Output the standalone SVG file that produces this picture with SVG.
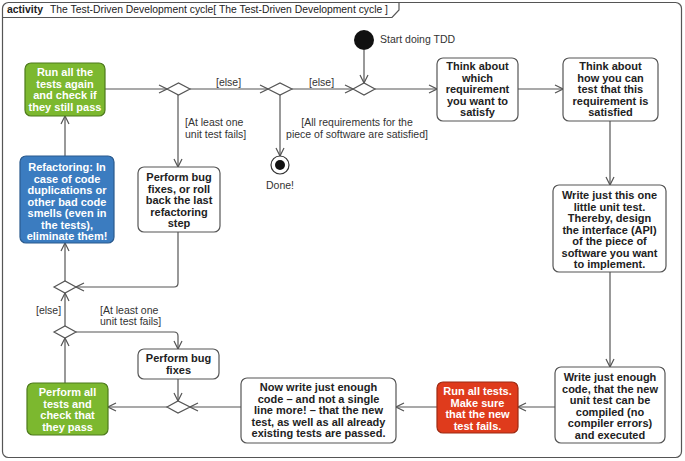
<svg xmlns="http://www.w3.org/2000/svg" width="685" height="461" viewBox="0 0 685 461">
<style>
.frame{fill:#fff;stroke:#555;stroke-width:1.2}
.box{fill:#fff;stroke:#555;stroke-width:1.2}
.green{fill:#7cb82f;stroke:#4d7a1c;stroke-width:1.2}
.blue{fill:#3b7cc0;stroke:#2a5a8e;stroke-width:1.2}
.red{fill:#df3b1c;stroke:#9e2a12;stroke-width:1.2}
.dia{fill:#fff;stroke:#555;stroke-width:1.2}
.t{font-family:"Liberation Sans",Arial,sans-serif;font-size:11px;font-weight:bold;fill:#222;text-anchor:middle}
.w{fill:#fff}
.lbl{font-family:"Liberation Sans",Arial,sans-serif;font-size:10.5px;fill:#333}
.edge{fill:none;stroke:#555;stroke-width:1.2;marker-end:url(#arr)}
</style>
<defs>
<marker id="arr" viewBox="0 0 10 10" refX="9" refY="5" markerWidth="10" markerHeight="10" markerUnits="userSpaceOnUse" orient="auto">
<path d="M1,1 L9,5 L1,9" fill="none" stroke="#555" stroke-width="1.2"/>
</marker>
</defs>
<g id="frame">
<rect class="frame" x="2.5" y="2.5" width="679" height="455" rx="6"/>
<path d="M2.5,17.5 H392 L399,10 V2.5" fill="none" stroke="#555" stroke-width="1.2"/>
<text x="7" y="13" font-family="Liberation Sans,Arial,sans-serif" font-size="11px" font-weight="bold" fill="#222" textLength="36" lengthAdjust="spacingAndGlyphs">activity</text>
<text x="50" y="13" font-family="Liberation Sans,Arial,sans-serif" font-size="11px" fill="#222" textLength="338" lengthAdjust="spacingAndGlyphs">The Test-Driven Development cycle[ The Test-Driven Development cycle ]</text>
</g>
<g id="connectors">
<path class="edge" d="M105,89 H167"/>
<path class="edge" d="M190,89 H268"/>
<path class="edge" d="M292,89 H353"/>
<path class="edge" d="M364,50 V83"/>
<path class="edge" d="M375,89 H437"/>
<path class="edge" d="M518,89 H563"/>
<path class="edge" d="M610,121 V185"/>
<path class="edge" d="M610,272 V367"/>
<path class="edge" d="M555,407 H518"/>
<path class="edge" d="M437,407 H396"/>
<path class="edge" d="M241,407 H190"/>
<path class="edge" d="M167,407 H108"/>
<path class="edge" d="M178,379 V401"/>
<path class="edge" d="M65,383 V338"/>
<path class="edge" d="M76,332 H174 Q178,332 178,336 V349"/>
<path class="edge" d="M65,326 V293"/>
<path class="edge" d="M178,232 V283 Q178,287 174,287 H76"/>
<path class="edge" d="M65,281 V243"/>
<path class="edge" d="M65,156 V116"/>
<path class="edge" d="M178,95 V167"/>
<path class="edge" d="M280,95 V156"/>
<text class="lbl" x="216" y="86">[else]</text>
<text class="lbl" x="309" y="86">[else]</text>
<text class="lbl" x="185" y="126">[At least one</text>
<text class="lbl" x="185" y="138">unit test fails]</text>
<text class="lbl" x="357" y="126" text-anchor="middle">[All requirements for the</text>
<text class="lbl" x="357" y="138" text-anchor="middle">piece of software are satisfied]</text>
<text class="lbl" x="36" y="314">[else]</text>
<text class="lbl" x="100" y="314">[At least one</text>
<text class="lbl" x="100" y="325">unit test fails]</text>
</g>
<g id="start">
<circle cx="364" cy="40" r="10" fill="#111"/>
<text class="lbl" x="380" y="43" fill="#222">Start doing TDD</text>
</g>
<g id="done">
<circle cx="280" cy="165" r="9" fill="#fff" stroke="#333" stroke-width="1.2"/>
<circle cx="280" cy="165" r="5" fill="#111"/>
<text class="lbl" x="280" y="189" text-anchor="middle">Done!</text>
</g>
<g id="d1"><path class="dia" d="M167,89 L178.5,83 L190,89 L178.5,95 Z"/></g>
<g id="d2"><path class="dia" d="M268,89 L280,83 L292,89 L280,95 Z"/></g>
<g id="d3"><path class="dia" d="M353,89 L364,83 L375,89 L364,95 Z"/></g>
<g id="d4"><path class="dia" d="M167,407 L178,401 L190,407 L178,413 Z"/></g>
<g id="d5"><path class="dia" d="M54,332 L65,326 L76,332 L65,338 Z"/></g>
<g id="d6"><path class="dia" d="M54,287 L65,281 L76,287 L65,293 Z"/></g>
<g id="runAgain">
<rect class="green" x="25" y="63" width="80" height="53" rx="6"/>
<text class="t w" x="65"><tspan x="65" y="76">Run all the</tspan><tspan x="65" y="87.5">tests again</tspan><tspan x="65" y="99">and check if</tspan><tspan x="65" y="110.5">they still pass</tspan></text>
</g>
<g id="refactor">
<rect class="blue" x="20" y="156" width="94" height="87" rx="6"/>
<text class="t w"><tspan x="67" y="171">Refactoring: In</tspan><tspan x="67" y="182.5">case of code</tspan><tspan x="67" y="194">duplications or</tspan><tspan x="67" y="205.5">other bad code</tspan><tspan x="67" y="217">smells (even in</tspan><tspan x="67" y="228.5">the tests),</tspan><tspan x="67" y="240">eliminate them!</tspan></text>
</g>
<g id="bugfix1">
<rect class="box" x="138" y="167" width="82" height="65" rx="6"/>
<text class="t"><tspan x="179" y="181">Perform bug</tspan><tspan x="179" y="192.5">fixes, or roll</tspan><tspan x="179" y="204">back the last</tspan><tspan x="179" y="215.5">refactoring</tspan><tspan x="179" y="227">step</tspan></text>
</g>
<g id="think1">
<rect class="box" x="437" y="58" width="81" height="63" rx="6"/>
<text class="t"><tspan x="477.5" y="70">Think about</tspan><tspan x="477.5" y="81.5">which</tspan><tspan x="477.5" y="93">requirement</tspan><tspan x="477.5" y="104.5">you want to</tspan><tspan x="477.5" y="116">satisfy</tspan></text>
</g>
<g id="think2">
<rect class="box" x="563" y="58" width="95" height="63" rx="6"/>
<text class="t"><tspan x="610.5" y="70">Think about</tspan><tspan x="610.5" y="81.5">how you can</tspan><tspan x="610.5" y="93">test that this</tspan><tspan x="610.5" y="104.5">requirement is</tspan><tspan x="610.5" y="116">satisfied</tspan></text>
</g>
<g id="write1">
<rect class="box" x="553" y="185" width="113" height="87" rx="6"/>
<text class="t"><tspan x="609.5" y="199">Write just this one</tspan><tspan x="609.5" y="210.5">little unit test.</tspan><tspan x="609.5" y="222">Thereby, design</tspan><tspan x="609.5" y="233.5">the interface (API)</tspan><tspan x="609.5" y="245">of the piece of</tspan><tspan x="609.5" y="256.5">software you want</tspan><tspan x="609.5" y="268">to implement.</tspan></text>
</g>
<g id="write2">
<rect class="box" x="555" y="367" width="110" height="76" rx="6"/>
<text class="t"><tspan x="610" y="381">Write just enough</tspan><tspan x="610" y="392.5">code, that the new</tspan><tspan x="610" y="404">unit test can be</tspan><tspan x="610" y="415.5">compiled (no</tspan><tspan x="610" y="427">compiler errors)</tspan><tspan x="610" y="438.5">and executed</tspan></text>
</g>
<g id="runFail">
<rect class="red" x="437" y="382" width="81" height="51" rx="6"/>
<text class="t w"><tspan x="477.5" y="395">Run all tests.</tspan><tspan x="477.5" y="406.5">Make sure</tspan><tspan x="477.5" y="418">that the new</tspan><tspan x="477.5" y="429.5">test fails.</tspan></text>
</g>
<g id="nowWrite">
<rect class="box" x="241" y="378" width="155" height="65" rx="6"/>
<text class="t"><tspan x="318.5" y="391">Now write just enough</tspan><tspan x="318.5" y="402.5">code – and not a single</tspan><tspan x="318.5" y="414">line more! – that the new</tspan><tspan x="318.5" y="425.5">test, as well as all already</tspan><tspan x="318.5" y="437">existing tests are passed.</tspan></text>
</g>
<g id="bugfix2">
<rect class="box" x="138" y="349" width="81" height="30" rx="6"/>
<text class="t"><tspan x="178.5" y="362">Perform bug</tspan><tspan x="178.5" y="373.5">fixes</tspan></text>
</g>
<g id="runAll">
<rect class="green" x="27" y="383" width="81" height="52" rx="6"/>
<text class="t w"><tspan x="67.5" y="396">Perform all</tspan><tspan x="67.5" y="407.5">tests and</tspan><tspan x="67.5" y="419">check that</tspan><tspan x="67.5" y="430.5">they pass</tspan></text>
</g>
</svg>
